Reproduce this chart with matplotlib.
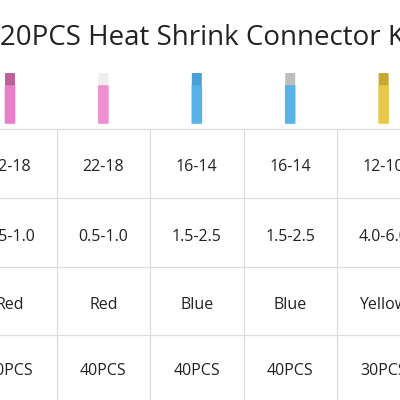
import matplotlib.pyplot as plt
from matplotlib.patches import FancyBboxPatch

title = "220PCS Heat Shrink Connector Kit"
awg = ["22-18", "22-18", "16-14", "16-14", "12-10"]
mm2 = ["0.5-1.0", "0.5-1.0", "1.5-2.5", "1.5-2.5", "4.0-6.0"]
colors = ["Red", "Red", "Blue", "Blue", "Yellow"]
counts = ["40PCS", "40PCS", "40PCS", "40PCS", "30PCS"]
sleeve = ["#e87fc8", "#ee8fd0", "#58b2ea", "#5ab2ea", "#e8c84a"]
tip = ["#c0609a", "#eeeeee", "#4a9fd8", "#bdbdbd", "#c8a830"]

fig = plt.figure(figsize=(4, 4), dpi=100)
ax = fig.add_axes([0, 0, 1, 1])
ax.set_xlim(0, 400)
ax.set_ylim(400, 0)
ax.axis("off")

ax.text(-16, 38, title, fontsize=20, family="Open Sans", color="#222222",
        va="center", ha="left")

xc = [10 + 93.4 * i for i in range(5)]
row_y = [167, 237, 305, 371]
lines_y = [129, 198, 267, 335]

for y in lines_y:
    ax.plot([0, 400], [y, y], color="#dddddd", lw=0.9)
for i in range(1, 5):
    x = xc[i] - 46.7
    ax.plot([x, x], [129, 400], color="#dddddd", lw=0.9)

for i, x in enumerate(xc):
    ax.add_patch(FancyBboxPatch((x - 4, 74), 8, 12, boxstyle="round,pad=1", fc=tip[i], ec="none"))
    ax.add_patch(FancyBboxPatch((x - 4.5, 86), 9, 37, boxstyle="round,pad=0.8", fc=sleeve[i], ec="none"))
    for j, txt in enumerate([awg[i], mm2[i], colors[i], counts[i]]):
        ax.text(x, row_y[j], txt, fontsize=11.5, family="Open Sans", color="#222222",
                ha="center", va="center")

fig.savefig("out.png", dpi=100)
